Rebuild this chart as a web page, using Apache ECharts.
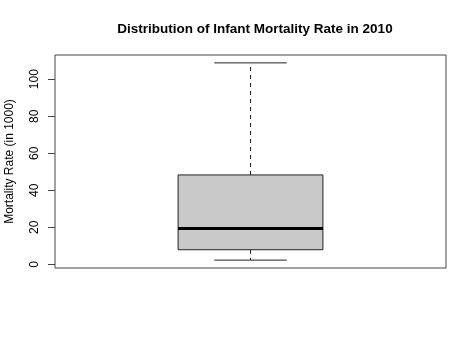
<!DOCTYPE html>
<html>
<head>
<meta charset="utf-8">
<script src="https://cdn.jsdelivr.net/npm/echarts@6/dist/echarts.min.js"></script>
<style>
  html, body { margin: 0; padding: 0; background: #fff; }
  #chart { width: 474px; height: 338px; }
</style>
</head>
<body>
<div id="chart"></div>
<script>
// Five-number summary of infant mortality rate (per 1000), 2010
const categories = ['2010'];
const lowerWhisker = [2.3];
const lowerQuartile = [7.9];
const medianValue = [19.4];
const upperQuartile = [48.3];
const upperWhisker = [108.8];
const yTicks = [0, 20, 40, 60, 80, 100];

// Axis limits padded by 4% of the data range on each side
const dataMin = Math.min(...lowerWhisker);
const dataMax = Math.max(...upperWhisker);
const pad = (dataMax - dataMin) * 0.04;

const boxData = categories.map((c, i) => [
  i + 1, lowerWhisker[i], lowerQuartile[i], medianValue[i], upperQuartile[i], upperWhisker[i]
]);

const lineColor = '#222';

function renderBox(params, api) {
  const x = api.value(0);
  const lo = api.value(1), q1 = api.value(2), md = api.value(3), q3 = api.value(4), hi = api.value(5);
  const halfBox = 0.2, halfCap = 0.1;
  const pLo = api.coord([x, lo]), pQ1 = api.coord([x, q1]), pMd = api.coord([x, md]);
  const pQ3 = api.coord([x, q3]), pHi = api.coord([x, hi]);
  const xl = api.coord([x - halfBox, 0])[0], xr = api.coord([x + halfBox, 0])[0];
  const cl = api.coord([x - halfCap, 0])[0], cr = api.coord([x + halfCap, 0])[0];
  const dashed = { stroke: lineColor, lineWidth: 1, lineDash: [4, 4] };
  const solid = { stroke: lineColor, lineWidth: 1 };
  return {
    type: 'group',
    children: [
      { type: 'line', shape: { x1: pQ3[0], y1: pQ3[1], x2: pHi[0], y2: pHi[1] }, style: dashed },
      { type: 'line', shape: { x1: pQ1[0], y1: pQ1[1], x2: pLo[0], y2: pLo[1] }, style: dashed },
      { type: 'line', shape: { x1: cl, y1: pHi[1], x2: cr, y2: pHi[1] }, style: solid },
      { type: 'line', shape: { x1: cl, y1: pLo[1], x2: cr, y2: pLo[1] }, style: solid },
      { type: 'rect', shape: { x: xl, y: pQ3[1], width: xr - xl, height: pQ1[1] - pQ3[1] },
        style: { fill: '#c8c8c8', stroke: lineColor, lineWidth: 1 } },
      { type: 'line', shape: { x1: xl, y1: pMd[1], x2: xr, y2: pMd[1] },
        style: { stroke: '#000', lineWidth: 3 } }
    ]
  };
}

const chart = echarts.init(document.getElementById('chart'), null, { renderer: 'canvas' });
chart.setOption({
  animation: false,
  title: {
    text: 'Distribution of Infant Mortality Rate in 2010',
    left: 250, top: 17, textAlign: 'center',
    textStyle: { fontFamily: 'Liberation Sans, Arial, sans-serif', fontWeight: 'bold', fontSize: 13.5, color: '#000' }
  },
  grid: {
    left: 55, right: 28, top: 55, bottom: 70,
    outerBoundsMode: 'none', containLabel: false,
    show: true, borderColor: '#444', borderWidth: 1, backgroundColor: 'transparent'
  },
  xAxis: {
    type: 'value', min: 1 - 0.54, max: 1 + 0.54, show: false
  },
  yAxis: {
    type: 'value',
    min: dataMin - pad, max: dataMax + pad,
    name: 'Mortality Rate (in 1000)',
    nameLocation: 'middle', nameRotate: 90, nameGap: 39,
    nameTextStyle: { fontFamily: 'Liberation Sans, Arial, sans-serif', fontSize: 12, color: '#000' },
    axisLine: { show: false },
    axisTick: { show: true, inside: false, length: 7, customValues: yTicks, lineStyle: { color: '#444' } },
    axisLabel: {
      customValues: yTicks, rotate: 90, margin: 14,
      fontFamily: 'Liberation Sans, Arial, sans-serif', fontSize: 12, color: '#000'
    },
    splitLine: { show: false }
  },
  series: [{
    type: 'custom',
    renderItem: renderBox,
    encode: { x: 0, y: [1, 2, 3, 4, 5] },
    data: boxData
  }]
});
</script>
</body>
</html>
